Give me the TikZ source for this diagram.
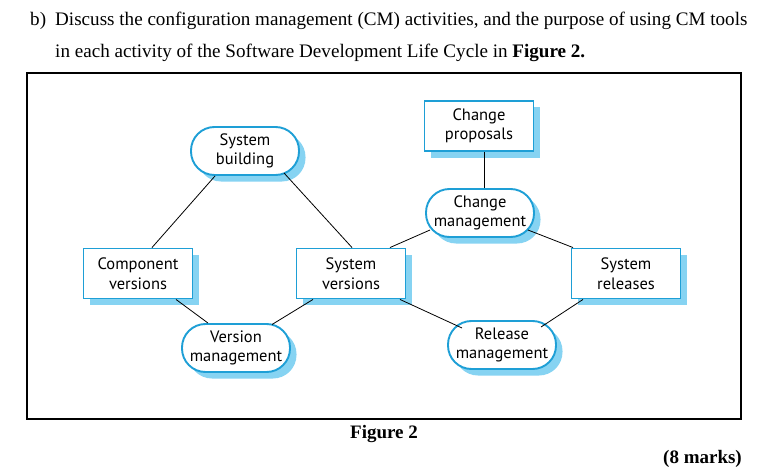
\documentclass[tikz,border=0pt]{standalone}
\usepackage{fontspec}
\setmainfont{Liberation Serif}
\newfontfamily\nodefont{PT Sans}
\usetikzlibrary{calc,shadows}
\definecolor{cmborder}{HTML}{1E9FD6}
\definecolor{cmshadow}{HTML}{86D3F2}
\begin{document}
\begin{tikzpicture}[x=1pt,y=-1pt,
  base/.style={draw=cmborder, line width=1.9pt, fill=white, align=center,
    font=\nodefont\fontsize{16.5}{19.5}\selectfont, inner sep=2pt,
    drop shadow={shadow xshift=6.5pt, shadow yshift=-6.5pt, fill=cmshadow, opacity=1}},
  boxnode/.style={base, rectangle, minimum width=109pt, minimum height=50pt},
  pillnode/.style={base, rectangle, rounded corners=23.5pt, minimum width=108pt, minimum height=48pt},
  conn/.style={draw=black, line width=0.8pt},
  qtext/.style={anchor=base west, inner sep=0pt, font=\fontsize{19.1}{22}\selectfont}
]
\useasboundingbox (0,0) rectangle (784,476);
% question
\node[qtext] (qb) at (30,26) {b)};
\node[qtext] (q1) at (55,26) {Discuss the configuration management (CM) activities, and the purpose of using CM tools};
\node[qtext] (q2) at (55,58) {in each activity of the Software Development Life Cycle in \textbf{Figure 2.}};
% frame
\draw[line width=1.1pt] (27,73) rectangle (741,419);
% nodes
\node[pillnode] (sb) at (245,151) {System\\building};
\node[boxnode]  (cp) at (479,126) {Change\\proposals};
\node[pillnode] (cm) at (480,213) {Change\\management};
\node[boxnode]  (cv) at (138,273.5) {Component\\versions};
\node[boxnode]  (sv) at (351,273.5) {System\\versions};
\node[boxnode]  (sr) at (626,273.5) {System\\releases};
\node[pillnode] (vm) at (236,348) {Version\\management};
\node[pillnode] (rm) at (502,345) {Release\\management};
% connectors
\draw[conn] ($(sb)+(-30,25)$) -- ($(cv.north)+(14,0)$);
\draw[conn] ($(sb)+(39,22)$) -- ($(sv.north)+(1,0)$);
\draw[conn] ($(cv.south)+(38,0)$) -- ($(vm.north)+(-28,0)$);
\draw[conn] ($(vm)+(36,-23.5)$) -- ($(sv.south)+(-38,0)$);
\draw[conn] ($(sv.north)+(39,0)$) -- ($(cm)+(-50,17)$);
\draw[conn] ($(cm)+(48,17)$) -- ($(sr.north)+(-53,0)$);
\draw[conn] ($(sv.south)+(49,0)$) -- ($(rm)+(-40,-17)$);
\draw[conn] ($(rm)+(39,-18)$) -- ($(sr.south)+(-43,0)$);
\draw[conn] ($(cp.south)+(5,0)$) -- ($(cm.north)+(4,0)$);
% captions
\node[anchor=base, inner sep=0pt, font=\bfseries\fontsize{19}{22}\selectfont] (fig) at (384,438) {Figure 2};
\node[anchor=base east, inner sep=0pt, font=\bfseries\fontsize{19}{22}\selectfont] (marks) at (742,463) {(8 marks)};
\end{tikzpicture}
\end{document}
